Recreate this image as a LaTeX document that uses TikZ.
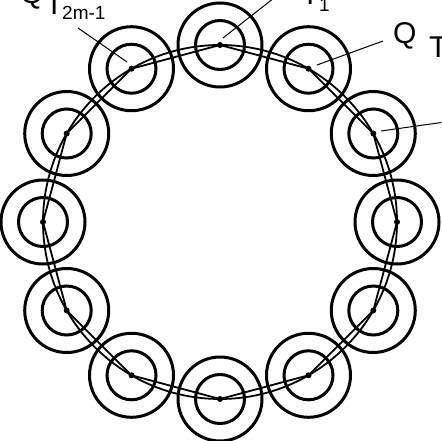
\documentclass[tikz,border=0pt]{standalone}
\usepackage{fontspec}
\setmainfont{Liberation Sans}
\begin{document}
\begin{tikzpicture}[x=1pt,y=-1pt,
  ringline/.style={line width=1.8pt},
  outerc/.style={circle, draw, line width=3pt, minimum size=84pt, inner sep=0pt},
  innerc/.style={circle, draw, line width=3pt, minimum size=49pt, inner sep=0pt},
  dotnode/.style={circle, fill, minimum size=6pt, inner sep=0pt},
  leader/.style={line width=1pt},
  lbl/.style={anchor=base west, inner sep=0pt},
  bigf/.style={font=\fontsize{30}{30}\selectfont},
  smallf/.style={font=\fontsize{19}{19}\selectfont}]
\clip (0,0) rectangle (441,441);
\coordinate (O) at (220,222);
\foreach \k in {0,...,11}{
  \path (O) ++(\k*30-90:177) coordinate (s\k);
}
% ring
\draw[ringline] (O) circle[radius=177];
\draw[ringline] (s0) -- (s1) -- (s2) -- (s3) -- (s4) -- (s5) -- (s6) -- (s7) -- (s8) -- (s9) -- (s10) -- (s11) -- cycle;
% stations
\foreach \k in {0,...,11}{
  \node[outerc] (oc\k) at (s\k) {};
  \node[innerc] (ic\k) at (s\k) {};
  \node[dotnode] (d\k) at (s\k) {};
}
% labels
\node[lbl,bigf] (qa) at (20,4) {Q};
\node[lbl,bigf] (ta) at (45,15) {T};
\node[lbl,smallf] (sa) at (62,20) {2m-1};
\node[lbl,bigf] (qb) at (276,-7) {Q};
\node[lbl,bigf] (tb) at (301,5) {T};
\node[lbl,smallf] (sb) at (319,12) {1};
\node[lbl,bigf] (qc) at (393,44) {Q};
\node[lbl,bigf] (tc) at (429,58) {T};
\node[lbl,smallf] (sc) at (447,64) {3};
% leader lines
\coordinate (la1) at (78,28);  \coordinate (la2) at (127,62);
\coordinate (lb1) at (274,-2); \coordinate (lb2) at (223,38);
\coordinate (lc1) at (383,41); \coordinate (lc2) at (317,65);
\coordinate (ld1) at (445,122); \coordinate (ld2) at (381,131);
\draw[leader] (la1) -- (la2);
\draw[leader] (lb1) -- (lb2);
\draw[leader] (lc1) -- (lc2);
\draw[leader] (ld1) -- (ld2);
\end{tikzpicture}
\end{document}
